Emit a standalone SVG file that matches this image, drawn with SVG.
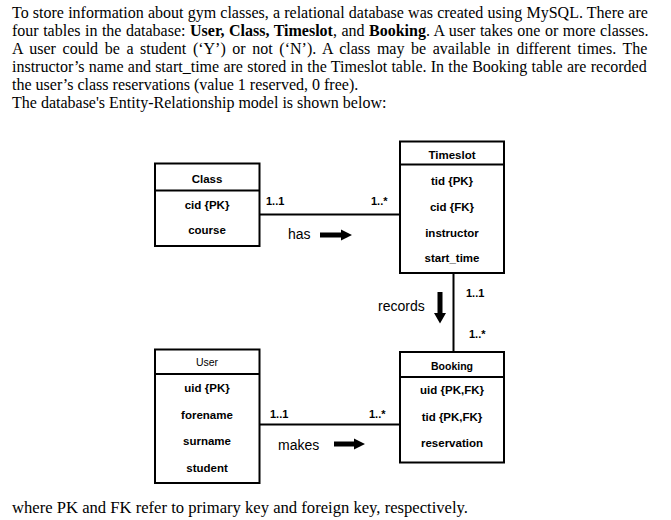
<svg xmlns="http://www.w3.org/2000/svg" width="671" height="520" viewBox="0 0 671 520">
<style>
.body{font-family:"Liberation Serif","Times New Roman",serif;font-size:16px;fill:#000}
.b{font-weight:bold}
.box{fill:#fff;stroke:#000;stroke-width:2}
.t{font-family:"Liberation Sans",Arial,sans-serif;font-size:11.5px;font-weight:bold;fill:#000;text-anchor:middle}
.h{font-family:"Liberation Sans",Arial,sans-serif;font-size:10.5px;fill:#000;text-anchor:middle}
.m{font-family:"Liberation Sans",Arial,sans-serif;font-size:11px;font-weight:bold;fill:#000}
.lbl{font-family:"Liberation Sans",Arial,sans-serif;font-size:14px;fill:#000}
.ln{stroke:#000;stroke-width:2;fill:none}
</style>
<rect width="671" height="520" fill="#fff"/>
<g id="intro" class="body">
<text x="12" y="17.5" word-spacing="0.2">To store information about gym classes, a relational database was created using MySQL. There are</text>
<text x="12" y="35.5" word-spacing="0.5">four tables in the database: <tspan class="b">User, Class, Timeslot</tspan>, and <tspan class="b">Booking</tspan>. A user takes one or more classes.</text>
<text x="12" y="54" word-spacing="2.6">A user could be a student (‘Y’) or not (‘N’). A class may be available in different times. The</text>
<text x="12" y="72" word-spacing="0.27">instructor’s name and start_time are stored in the Timeslot table. In the Booking table are recorded</text>
<text x="12" y="89.5">the user’s class reservations (value 1 reserved, 0 free).</text>
<text x="12" y="108">The database's Entity-Relationship model is shown below:</text>
</g>
<g id="connectors">
<line class="ln" x1="260" y1="214.5" x2="400" y2="214.5"/>
<line class="ln" x1="453.5" y1="273" x2="453.5" y2="352"/>
<line class="ln" x1="260" y1="424.5" x2="400" y2="424.5"/>
<text class="m" x="266" y="205">1..1</text>
<text class="m" x="371" y="205">1..*</text>
<text class="m" x="466" y="297">1..1</text>
<text class="m" x="469" y="338">1..*</text>
<text class="m" x="270" y="418">1..1</text>
<text class="m" x="369" y="418">1..*</text>
<text class="lbl" x="288" y="239">has</text>
<polygon points="320,232.5 341,232.5 341,229.5 352,235 341,240.5 341,237.5 320,237.5" fill="#000"/>
<text class="lbl" x="378" y="311">records</text>
<polygon points="437.5,292 442.5,292 442.5,313 446,313 440,323.5 434,313 437.5,313" fill="#000"/>
<text class="lbl" x="278" y="450">makes</text>
<polygon points="334,441.5 354,441.5 354,438.5 365,444 354,449.5 354,446.5 334,446.5" fill="#000"/>
</g>
<g id="class">
<rect class="box" x="155" y="163.5" width="104.5" height="82.5"/>
<line class="ln" x1="155" y1="190.5" x2="259.5" y2="190.5"/>
<text class="t" x="207" y="183">Class</text>
<text class="t" x="207" y="208.5">cid {PK}</text>
<text class="t" x="207" y="234">course</text>
</g>
<g id="timeslot">
<rect class="box" x="400" y="141.5" width="104" height="131.5"/>
<line class="ln" x1="400" y1="164.5" x2="504" y2="164.5"/>
<text class="t" x="452" y="158.5">Timeslot</text>
<text class="t" x="452" y="184.5">tid {PK}</text>
<text class="t" x="452" y="210.5">cid {FK}</text>
<text class="t" x="452" y="236.5">instructor</text>
<text class="t" x="452" y="262">start_time</text>
</g>
<g id="user">
<rect class="box" x="155" y="349.5" width="104.5" height="133.5"/>
<line class="ln" x1="155" y1="374" x2="259.5" y2="374"/>
<text class="h" x="207" y="366">User</text>
<text class="t" x="207" y="392">uid {PK}</text>
<text class="t" x="207" y="418.5">forename</text>
<text class="t" x="207" y="445">surname</text>
<text class="t" x="207" y="471.5">student</text>
</g>
<g id="booking">
<rect class="box" x="400" y="352" width="104" height="110.5"/>
<line class="ln" x1="400" y1="377" x2="504" y2="377"/>
<text class="h" x="452" y="369.5" style="font-weight:bold">Booking</text>
<text class="t" x="452" y="394">uid {PK,FK}</text>
<text class="t" x="452" y="421">tid {PK,FK}</text>
<text class="t" x="452" y="447">reservation</text>
</g>
<text class="body" x="12" y="513" font-size="16.5" textLength="456" lengthAdjust="spacingAndGlyphs">where PK and FK refer to primary key and foreign key, respectively.</text>
</svg>
